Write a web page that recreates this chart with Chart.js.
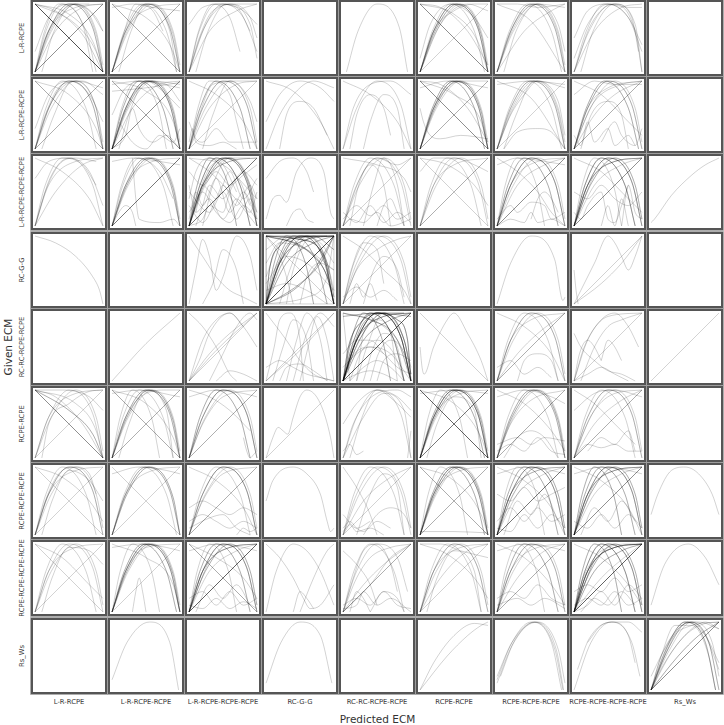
<!DOCTYPE html>
<html>
<head>
<meta charset="utf-8">
<script src="https://cdn.jsdelivr.net/npm/chart.js@4.4.1/dist/chart.umd.min.js"></script>
<style>
body { margin: 0; width: 724px; height: 725px; position: relative; background: #fff; overflow: hidden; font-family: "DejaVu Sans", sans-serif; }
.cell { position: absolute; box-sizing: border-box; border: 2px solid #555; box-shadow: 0 0 0 0.8px #9a9a9a; background: #fff; }
.cell div { position: relative; width: 100%; height: 100%; }
.lab { position: absolute; white-space: nowrap; color: #333; }
</style>
</head>
<body>
<script>
const rowLabels = ['L-R-RCPE', 'L-R-RCPE-RCPE', 'L-R-RCPE-RCPE-RCPE', 'RC-G-G', 'RC-RC-RCPE-RCPE', 'RCPE-RCPE', 'RCPE-RCPE-RCPE', 'RCPE-RCPE-RCPE-RCPE', 'Rs_Ws'];
const colLabels = ['L-R-RCPE', 'L-R-RCPE-RCPE', 'L-R-RCPE-RCPE-RCPE', 'RC-G-G', 'RC-RC-RCPE-RCPE', 'RCPE-RCPE', 'RCPE-RCPE-RCPE', 'RCPE-RCPE-RCPE-RCPE', 'Rs_Ws'];
const xTitle = 'Predicted ECM';
const yTitle = 'Given ECM';

//? curves: "x,y x,y ..." on a 0..10 box, "*n" = n overlapping curves
const givenLRRCPE = [
    ["0,10 10,0*6", "0,0 10,10*3", "0,0 2,6 5,10 8.5,6.5 10,0*2", "0,0 2.2,6 5.5,10 9,5.5 10,0", "0,0 1.6,6 4,10 7.5,6 9,0", "0,0 2.4,6 6,10 9,6 10,1", "0,0 2,6 6,9.5 10,10", "0,0 3,6 7,9.5 10,10", "0,0 1.5,5 3.5,8.5 6,10 8,10", "0,10 5,8.5 8.5,4.5 10,0", "0,10 3,9 7,5.5 10,0", "0,10 6,7 9,3 10,0", "0,0 1.4,6 3.5,10 7,7 8.5,0", "0,3 2,8 5,10 8,9 10,6", "1,0 2.8,6 6,10 9,8 10,6"],
    ["0,10 10,0*2", "0,0 10,10*2", "0,0 2,6 5,10 8.5,6.5 10,0*2", "0,0 2.2,6 5.5,10 9,5.5 10,0", "0,0 1.8,6 4.5,10 8,6 9.5,0", "0,0 2.4,6 6,10 9,6 10,1", "0,0 2,6 6,9.5 10,10", "0,9.5 3,10 6,9.5 10,9", "0,0 1.5,5 3.5,10 6,9 7.5,6", "1,0 2.8,6 5,10 8.5,6 9.5,0", "0,10 5,8 8.5,4 10,0"],
    ["0,0 1.5,6 4,10 7,9.5 9,6", "0,0 2,6 5,10 8,9 10,7", "0,0 2.5,7 6,10 9,8 10,5", "0,0 1.5,5 3.5,9 7,10 10,10", "0,0 3,6 7,9 10,10", "0,7 2,9.5 5,10 8,8 10,3", "0,0 1.4,6 3.5,10 6,8 7.5,3", "1,0 2.8,6 5.5,10 9,7 10,2"],
    [],
    ["0.5,0 2.2,6 5,10 8.3,6.5 9.5,0"],
    ["0,10 10,0*3", "0,0 10,10", "0,0 2,6 5,10 8.5,6.5 10,0*3", "0,0 2.2,6 5.5,10 9,5.5 10,0*2", "0,0 1.8,6 4.5,10 8,6 9.5,0", "0,0 2.4,6 6,10 9,6 10,1", "0,0 2,6 5,9 8,10 10,10", "0,10 5,8.5 8.5,4.5 10,0", "0,10 3,9.5 7,6 10,1", "0,2 1.5,7 4.5,10 8,8 10,5", "0,0 3,7 7,10 10,9"],
    ["0,0 2,6 5,10 8.5,6.5 10,0*2", "0,0 2.2,6 5.5,10 9,5.5 10,0", "0,0 1.8,6 4.5,10 8,6 9.5,0", "0,0 2.4,6 6,10 9,6 10,1", "0,0 2.5,7 6,10 10,9.5", "0,10 5,7.5 10,0", "0,10 3,10 6,9.5 10,10", "1,0 2.8,6 6,10 9,7 10,3", "0,0 4,6 8,9 10,10"],
    ["0,0 1.8,6 4.5,10 8,8 10,3", "0,0 2.2,6 5.5,10 9,6 10,0", "0,0 2.5,7 6,10 8.5,8 9.5,3", "0,2 2,7 5,10 8,9.5 10,9.5", "0,5 2,9 5,10 8,8 10,4", "1,0 2.8,6 6,10 9,7 10,0", "0,0 3,6 7,9.5 10,10"],
    []
];
const givenLRRCPERCPE = [
    ["0,10 10,0*2", "0,0 10,10*2", "0,0 2,6 5,10 8.5,6.5 10,0*2", "0,0 1.6,6 4,10 7.5,6 9,0", "0,0 2.4,6 6,10 9,6 10,1", "0,0 2.5,7 6,10 10,9", "0,0 1.5,5 4,9.5 7,10 10,8", "0,10 5,8 9,3 10,0", "1,0 2.8,5 5.5,10 9,6 10,0", "0,3 2,8 5,10 8,8 10,4"],
    ["0,0 10,10*3", "0,10 10,0*2", "0,0 2,6 5,10 8.5,6.5 10,0*3", "0,0 1.6,6 4,10 7.5,6 9,0*2", "0,0 2.2,6 5.5,10 9,5.5 10,0*2", "0,0 2.4,6 6,10 9,6 10,1", "0,0 1.4,6 3.5,10 6.8,6 8,0", "0,0 2.5,7 6,10 10,9.5", "0,0 3,6 7,9.5 10,10", "0,9.5 4,10 10,9", "0,8.5 5,9 10,9.8", "0,10 5,8.5 9,4 10,0", "0,0 2,2 3,6 4,3 6,1 8,2 10,0", "1,4 3,1 5,0 7,2 9,1 10,3", "1,0 2.8,6 5,10 8,8 10,6", "0,5 2,9 5,10 8,9.5 10,7"],
    ["0,0 2,6 5,10 8.5,6.5 10,0*2", "0,0 1.6,6 4,10 7.5,6 9,0*2", "0,0 2.4,6 6,10 9,6 10,1", "0,0 1.5,5 3.5,9.5 7,10 10,10", "0,0 3,6 7,9.5 10,10", "0,0 10,10", "0,10 4,8 8,4 10,0", "0,1 0.5,3 1,1 3,0.5 5,1 7,0", "0,4 1,1.5 2,1 4,3 6,1 10,1", "0,0 1.3,6 3,10 6,8 7,4 8,0", "2,0 3.5,5 6,10 9,7 10,4"],
    ["0,0 2,5 5,9 7,10 10,9", "0,10 4,8.5 8,4 10,0", "0,4 2,8 5,10 8,9 10,7", "2,0 3,5 5,7 7,6 9,2"],
    ["0,0 2,6 5,10 8.5,6.5 10,0", "0,0 1.5,6 4,9.5 7,10 10,8", "1,0 2,5 4,8 6,6 7,2", "0,10 4,8 8,4 10,0", "3,0 4,4 6,8 8,6 9,0"],
    ["0,10 10,0*3", "0,0 10,10*2", "0,0 2,6 5,10 8.5,6.5 10,0*3", "0,0 2.2,6 5.5,10 9,5.5 10,0*2", "0,0 1.8,6 4.5,10 8,6 9.5,0*2", "0,0 2.4,6 6,10 9,6 10,1", "0,10 5,8 9,4 10,0", "0,10 3,9.5 7,6 10,1", "0,6 0.5,4 1.5,2 3,1.5 6,2 10,1.5", "0,0 2,6 6,10 10,10", "0,9 4,10 10,9"],
    ["0,0 2,6 5,10 8.5,6.5 10,0*2", "0,0 2.2,6 5.5,10 9,5.5 10,0", "0,0 1.8,6 4.5,10 8,6 9.5,0", "0,0 2.4,6 6,10 9,6 10,1", "0,10 5,7.5 10,0", "0,0 10,10", "0,0 2,5 4,8 6,10 10,9", "0,9.5 5,10 10,9.5", "1,0 3,2.5 6,3 8,2.5 10,0", "1,0 2.8,5 5.5,10 9,7 10,2"],
    ["0,0 10,10*2", "0,0 2,6 5,10 8.5,6.5 10,0*2", "0,0 1.8,6 4.5,10 8,6 9.5,0*2", "0,0 2.4,6 6,10 9,6 10,1", "0,0 2,6 5,9 10,10", "0,0 3,5 6,8 10,10", "0,0 1.5,4 3,7 7,9.5 10,10", "0,10 4,8 8,4 10,2", "0,2 1,0.5 2,4 3,1 5,3 6,0.5 8,2 9,0.5", "1,0 2.5,5 5,7 7,5 8,0", "0,8 3,10 6,9.5 10,9.5", "4,1 6,4 7,2 9,0.5 10,3"],
    []
];
const givenLRRCPERCPERCPE = [
    ["0,0 2,6 6,9.5 10,10", "0,0 1.5,6 4,10 7,9 9,6", "0,0 2.2,7 5,10 8.5,6 10,0", "0,7 2,9.5 5,10 8,8 10,3", "0,0 3,5 7,9 10,10", "0,10 4,8 8,4 10,0", "0,0 1.5,5 3.5,9 6,10 9,9.5"],
    ["0,0 10,10*4", "0,0 2,6 5,10 8.5,6.5 10,0*2", "0,0 1.6,6 4,10 7.5,6 9,0", "0,0 2.2,6 5.5,10 9,5.5 10,0*2", "0,0 2.4,6 6,10 9,6 10,1", "0,0 2,6 6,9.5 10,10", "0,0 1.4,6 3.5,10 7,8 9,4", "0,9.5 3,10 7,9.5 10,9", "3,10 3.5,4 4,1 7,0.5 9,1 10,0", "0,0 1,2 2,3 3,2 3.5,0"],
    ["0,0 10,10*4", "0,0 2,6 5,10 8.5,6.5 10,0*3", "0,0 1.6,6 4,10 7.5,6 9,0*3", "0,0 1.2,6 3,10 5.8,6 7,0*2", "0,0 2.2,6 5.5,10 9,5.5 10,0*2", "0,0 2.4,6 6,10 9,6 10,1", "0,0 2,6 6,9.5 10,10*2", "0,0 1.5,5 3,8.5 6,10 9,10", "0,10 3,8 6,5 10,0", "0,10 5,9 10,4", "0,1 1,5 2,3 4,7 6,2 8,5 10,1", "0,3 2,0.5 4,4 5,6 7,3 9,6 10,4", "0,6 1,2 3,4 5,1 7,4 9,2 10,5", "0,2 2,5 4,2 6,0.5 8,3 10,1", "1,0 2,3 3,6 5,4 7,7 9,3", "0,0 2,1 3,3 5,2 6,5 8,8 10,6", "0,8 2,6 4,8 6,6 8,7.5 10,9", "2,0 3.5,6 6,10 9,6 10,2", "0,4 1,8 3,10 5,9 7,5", "1,2 2,6 4,4 6,8 8,4 10,7", "0,5 3,2 5,5 7,1 9,4 10,2"],
    ["0,1 1,4 2,4.5 3,3.5 4.5,8 6.5,10 8.5,8 9.5,2 10,1", "0,7 2,9.5 4,10 6,8 7,5", "3,0 4,2 5,2.5 6,1 7,0.5"],
    ["0,0 2,6 5,10 8.5,6.5 10,0", "0,0 1.6,6 4,10 7.5,6 9,0", "0,0 2.4,6 6,10 9,6 10,1", "0,10 5,9 9,7 10,5", "0,0 10,10", "0,0 2.5,7 5,10 8,9 10,10", "1,0 2.3,6 4,9 6,6 7,0", "3,0 4.5,6 6,10 8,6 9,0", "0,2 2,0.5 4,3 6,0.5 8,2 10,0.5", "0,1 2,3 4,1.5 6,3 8,1 10,2", "0,0 1,1 3,0.5 5,2 7,0 10,1", "5,0 6,3 7,4 8,2 9,0"],
    ["0,0 2,6 5,10 8.5,6.5 10,0", "0,0 1.6,6 4,10 7.5,6 9,0", "0,0 2.4,6 6,10 9,6 10,1", "0,0 10,10*2", "0,10 10,0", "0,0 2,6 5,9 10,10", "0,8 2,10 5,10 8,9 10,8", "0,10 4,9 8,6 10,3"],
    ["0,0 10,10*3", "0,0 2,6 5,10 8.5,6.5 10,0*3", "0,0 1.6,6 4,10 7.5,6 9,0*2", "0,0 2.4,6 6,10 9,6 10,1", "0,0 1.2,6 3,10 5.8,6 7,0", "0,0 2,6 6,9.5 10,10", "0,0 3,6 7,9 10,10", "0,10 3,8 6,5 8,2 10,0", "0,1 2,3 3,2 5,3.5 7,3 8,1 10,2", "0,0 2,1 4,0.5 5,2 6,0.5 8,1 10,0", "5,1 6,4 7,5 8,4 9,2", "0,9 3,10 7,9.5 10,9"],
    ["0,0 10,10*3", "0,0 2,6 5,10 8.5,6.5 10,0*3", "0,0 1.6,6 4,10 7.5,6 9,0*3", "0,0 2.4,6 6,10 9,6 10,1*2", "0,0 1.2,6 3,10 5.8,6 7,0", "0,0 2,6 6,9.5 10,10*2", "0,0 3,6 7,9 10,10", "0,0 1.5,4 3,7.5 6,9.5 10,10", "0,10 4,8 7,5 10,2", "0,2 1,1 2,3 4,5 5,1 6,0.5 7,3 8,6", "4,0 5,3 6,0 7,4 8,0", "0,5 2,4 4,6 6,4 8,3 10,5", "7,0 8,6 9,2 10,1"],
    ["0,0.5 0.5,1 3,4.5 6,7.5 8,9 10,10"]
];
const givenRCGG = [
    ["0,10 3,9 6,7 8.5,4 9.5,2 10,0"],
    [],
    ["0,0 1,5 2,9.5 3,7 4,2 5,4 7,10 9,7 10,2", "0,10 2,7 4,4 6,2 8,1 10,0", "2,0 3.5,3 5,8 7,5 8,0"],
    ["0,0 10,10*6", "0,10 10,0", "0,0 2,6 5,10 8.5,6.5 10,0*3", "0,0 1.6,6 4,10 7.5,6 9,0*2", "0,0 1.2,6 3,10 5.8,6 7,0*2", "0,0 2.4,6 6,10 9,6 10,1*2", "0,0 2,6 6,9.5 10,10*3", "0,0 3,6 7,9 10,10*2", "0,0 1.5,5 3,8.5 6,10 9,10*2", "0,0 0.5,5 2,8.5 5,9.8 10,10*3", "0,10 5,9.5 8.5,7 10,0*4", "0,10 4,9 7,7 9,4 10,0*2", "0,10 6,8 9,4 10,0*2", "0,10 2,7 3,4 4,0", "0,0 2,1 5,3 8,6 10,10*2", "0,0 4,2 7,5 10,10*2", "0,0 6,1 9,4 10,10", "2,0 3.5,5 6,10 9,6 10,2", "3,0 4,5 7,10 10,8", "0,4 2,9 5,10 8,9 10,6", "5,0 6,4 8,6 10,5", "0,8 3,10 7,10 10,8", "0,2 3,3 6,2 9,0", "0,10 10,10*2", "0,0 0.02,10*2", "9.98,0 10,10", "0,0 10,0", "0,6 2,9 6,8 10,5", "0,3 3,7 6,6 10,2"],
    ["0,0 2,6 5,10 8.5,6.5 10,0", "0,0 1.6,6 4,10 7.5,6 9,0", "0,0 2.4,6 6,10 9,6 10,1", "0,0 1.2,5 3,9 5,8 6,3", "0,0 10,10", "0,0 2,5 5,8 8,9.5 10,10", "0,10 3,8 6,5 9,2 10,0", "1,0 2,3 3,1 4,3 5,0.5", "3,0 4.5,5 6,7 8,5 9,1", "0,1 2,2.5 4,1 6,2 8,0.5"],
    [],
    ["0,0 2,6 5,10 8.5,6.5 9.7,0.5 10,1"],
    ["0,0 1,2 3,6 5,10 6,9 7,7 8,5 9,7 10,10", "0,0 5,5 10,10", "0,0 4,3 7,6 10,10", "0,5 0.3,2 0.6,0"],
    []
];
const givenRCRCRCPERCPE = [
    [],
    ["0,0 5,5.5 10,10"],
    ["0,0 5,5 10,10", "0,0 4,4.5 10,10", "0,0 3,4 6,7 10,10", "0,0 1.5,3 3,7 6,10 8,8 10,5", "0,0 2,6 4,9 6,10 8,8", "3,0 5,4 7,8 9,10 10,9", "4,0 6,1.5 8,1 10,0", "0,10 2,8 4,5 6,1 7,0"],
    ["0,0 1.2,5 2,9 3.5,10 5,6 5.5,0", "3,0 4.5,6 6,10 8,6 9,0", "1,0 2.5,5 4,9 6,6 7,0", "5,0 6.2,5 7.5,9.5 9,6 10,0", "0,0 10,10", "0,0 5,4.5 10,10", "0,10 3,6 5,3 7,1 10,0", "2,0 3,2 5,2.5 7,1.5 9,0", "0,2 2,3 4,2 6,1 8,0.5 10,0", "4,0 6,7 8,10 10,8"],
    ["0,0 10,10*5", "0,0 2,6 5,10 8.5,6.5 10,0*6", "0,0 1.6,6 4,10 7.5,6 9,0*3", "0,0 2.4,6 6,10 9,6 10,1*3", "0,0 1.2,6 3,10 5.8,6 7,0*2", "0,0 2,6 6,9.5 10,10*3", "0,0 3,6 7,9 10,10*2", "0,0 1.5,5 3,8.5 6,10 9,10*2", "0,0 0.8,5 3,9 5,10 8,9 9.5,6 10,0*3", "0,10 4,9 8,6 10,0*2", "0,10 6,8 9,4 10,0", "0,9.5 5,10 10,9.5*2", "2,0 3.5,5 6,10 9,6 10,2", "3,0 4.5,5 6,7 8,5 9,0", "4,0 5.2,4 7,6 9,4 10,0", "1,0 3,2 5,3 7,2 9,0", "0,2 2,4 4,5 6,4 8,2 10,1", "0,0 2,1 4,1.5 6,1 8,0", "5,0 6,3 8,4 10,3", "0,4 2,6 4,6 6,4", "1,0 2.5,4 5,6 7.5,4 9,0", "0,0 1,3 4,5 7,4 10,0", "0,10 0.5,5 1,0", "2,0 3,7 5,9 7,7 8,0"],
    ["0,5 0.3,2 0.6,1 2,5 4,9 5,10 7,7 9,3 10,0", "0,10 10,0"],
    ["0,0 2,6 5,10 8.5,6.5 10,0*2", "0,0 1.6,6 4,10 7.5,6 9,0", "0,0 2.4,6 6,10 9,6 10,1", "0,0 10,10*2", "0,10 4,8 8,4 10,0", "0,0 2,6 5,9 10,10", "0,0 3,4 6,7 10,10", "3,0 4,3 6,4 8,3 9,0", "0,2 2,3 4,1 6,2 8,0.5"],
    ["0,0 10,10", "0,0 2,6 5,9.5 10,10", "0,0 1.5,5 4,9 6,10 8,8 9.5,5", "0,0 0.8,4 2,6 3,5 4,3", "1,0 3,5 5,8 7,9 10,10", "0,7 1,5 3,3 5,1.5 7,1 9,0", "0,0 2,1 4,2 6,1 8,0", "4,3 5,6 6,5 7,3"],
    ["0,0 5,5 10,10"]
];
const givenRCPERCPE = [
    ["0,10 10,0*3", "0,10 5,7 8.5,3.5 10,0*2", "0,10 3,9 7,5 10,0", "0,10 6,8 9,4 10,0", "0,0 10,10", "0,0 2,6 5,10 8.5,6.5 10,0", "0,0 2.4,6 6,10 9,6 10,1", "0,0 2,6 6,9.5 10,10", "0,10 4,10 8,9 10,7", "1,0 2,5 5,8 8,9.8 10,10"],
    ["0,10 10,0*2", "0,0 10,10*2", "0,0 2,6 5,10 8.5,6.5 10,0*2", "0,0 1.6,6 4,10 7.5,6 9,0", "0,0 2.2,6 5.5,10 9,5.5 10,0*2", "0,0 2.4,6 6,10 9,6 10,1", "0,0 1.2,6 3,10 5.8,6 7,0", "0,0 2,6 5,9.5 8,10 10,10", "0,10 5,8 9,3 10,0", "0,9.5 4,10 10,9", "1,0 2.5,5 5,10 8,7 9,0"],
    ["0,0 2,6 5,10 8.5,6.5 10,0*3", "0,0 1.6,6 4,10 7.5,6 9,0*2", "0,0 2.4,6 6,10 9,6 10,1", "0,0 10,10*2", "0,0 2,5 5,9 10,10", "0,10 3,9 6,7 9,4", "8,3 8.5,1 9,0 9.5,0.5 10,1", "0,9 4,10 8,9.5 10,9"],
    ["0,0 10,10", "0,0 1,3 1.8,4.5 2.5,4 3.2,3.5 4,6 5,9 6,10 8,8 9.5,3 10,0"],
    ["0,0 2,6 5,10 8.5,6.5 10,0", "0,0 1.5,5 5,9.5 8,10 10,9", "1,0 2.8,6 5,10 8,8 10,6", "0,5 2,8 5,10 8,9 10,7", "0,0 3,6 6,9.5 9,7 10,0", "0,1 1,2 2,0.5 3,1", "9.5,0 10,4"],
    ["0,10 10,0*5", "0,0 10,10*4", "0,0 2,6 5,10 8.5,6.5 10,0*4", "0,0 1.8,6 4.5,10 8,6 9.5,0*2", "0,0 2.2,6 5.5,10 9,5.5 10,0*2", "0,0 2.4,6 6,10 9,6 10,1", "0,0 1.2,6 3,10 5.8,6 7,0", "0,10 5,8 9,3 10,0", "0,0 2,6 6,9.5 10,10", "0,9.5 5,10 10,9.5", "1,0 2.5,5 5,9 8,7 9,0"],
    ["0,0 2,6 5,10 8.5,6.5 10,0*2", "0,0 1.6,6 4,10 7.5,6 9,0", "0,0 2.2,6 5.5,10 9,5.5 10,0*2", "0,0 2.4,6 6,10 9,6 10,1", "0,0 10,10*2", "0,0 2,5 5,8.5 10,10", "0,10 4,8 8,4 10,1", "0,1 2,2 4,1 6,3 8,1 10,0.5", "0,2 3,3 5,2 7,3 10,2.5", "0,9 4,10 8,9 10,8", "1,0 3,3 5,4 7,3 9,0"],
    ["0,0 2,6 5,10 8.5,6.5 10,0*2", "0,0 1.6,6 4,10 7.5,6 9,0", "0,0 2.4,6 6,10 9,6 10,1", "0,0 10,10*2", "0,0 1.5,4 3,7 6,9.5 10,10", "0,0 3,5 7,8.5 10,10", "0,10 3,8 6,5 9,2", "0,0 2,2 4,1.5 6,2 8,1 10,1", "2,1 4,3 6,2 8,4 9,1", "0,7 3,9.5 6,10 10,9"],
    []
];
const givenRCPERCPERCPE = [
    ["0,0 2,6 5,10 8.5,6.5 10,0*2", "0,0 1.6,6 4,10 7.5,6 9,0", "0,0 2.4,6 6,10 9,6 10,1", "0,0 10,10", "0,10 10,0", "0,0 2,6 6,9.5 10,10", "0,10 4,8.5 8,5 10,2", "0,0 1.5,5 3.5,9 6,10 8,9 9,6", "1,0 2.5,5 5,9.5 8,8 10,5"],
    ["0,0 2,6 5,10 8.5,6.5 10,0*2", "0,0 2.2,6 5.5,10 9,5.5 10,0*2", "0,0 1.8,6 4.5,10 8,6 9.5,0", "0,0 10,10", "0,10 10,0", "0,0 2,6 6,9.5 10,10", "0,9 4,10 8,9.5 10,9"],
    ["0,0 2,6 5,10 8.5,6.5 10,0*3", "0,0 1.6,6 4,10 7.5,6 9,0", "0,0 2.4,6 6,10 9,6 10,1", "0,0 10,10*2", "0,10 4,8 8,4 10,0", "0,0 2,5 5,9 10,10", "0,2 2,3 4,2 6,1 8,2 10,1", "0,1 3,2.5 5,3 7,1 9,0", "0,4 2,5 4,4 6,3 8,4 10,3", "7,0 8,1 9,0.5 10,1"],
    ["0,5 1,8 4,10 6,9 8,6 9,2 9.5,0.5 10,1"],
    ["0,0 2,6 5,10 8.5,6.5 10,0", "0,0 1.6,6 4,10 7.5,6 9,0", "0,0 2.4,6 6,10 9,6 10,1", "0,0 10,10", "0,0 3,5 7,8.5 10,10", "0,10 2,7 4,3 5,0", "2,0 4,6 6,9 8,7 9,0", "0,1 1,2 2,1 3,0.5 5,2 7,1", "0,0.5 1,1.5 2,0.5 4,1 6,0", "0,3 2,1 4,2", "3,0 5,3 7,4 9,3 10,1"],
    ["0,10 10,0*2", "0,0 10,10*2", "0,0 2,6 5,10 8.5,6.5 10,0*3", "0,0 1.8,6 4.5,10 8,6 9.5,0*2", "0,0 2.2,6 5.5,10 9,5.5 10,0*2", "0,0 2.4,6 6,10 9,6 10,1", "0,0 1.2,6 3,10 5.8,6 7,0", "0,0 2,6 6,9.5 10,10", "0,10 5,8 9,3 10,0", "0,0.5 5,0.5 10,0.3"],
    ["0,0 10,10*4", "0,0 2,6 5,10 8.5,6.5 10,0*3", "0,0 1.6,6 4,10 7.5,6 9,0*2", "0,0 2.4,6 6,10 9,6 10,1*2", "0,0 1.2,6 3,10 5.8,6 7,0", "0,0 2,6 6,9.5 10,10*2", "0,0 3,6 7,9 10,10", "0,10 4,8 8,4 10,0", "0,2 2,4 4,2 6,4 8,2 10,3", "0,1 2,0.5 4,3 6,1 8,3 10,1", "1,0 3,5 5,3 7,6 9,2", "0,6 2,5 4,7 6,5 8,6 10,7", "0,9 4,10 8,9.5 10,9"],
    ["0,0 10,10*3", "0,0 2,6 5,10 8.5,6.5 10,0*3", "0,0 1.6,6 4,10 7.5,6 9,0*2", "0,0 2.4,6 6,10 9,6 10,1*2", "0,0 1.2,6 3,10 5.8,6 7,0*2", "0,0 2,6 6,9.5 10,10*2", "0,0 1.5,4 3,7.5 6,9.5 10,10", "0,0 3,6 7,9 10,10", "0,10 4,8 8,4 10,0", "0,2 2,1 4,3 6,1 8,3 10,1", "1,0 3,4 5,2 7,5 9,2", "0,9 4,10 8,9.5 10,9"],
    ["0,3 1,6 3,9.5 5,10 7,9 9,6 10,3"]
];
const givenRCPERCPERCPERCPE = [
    ["0,0 2,6 5,10 8.5,6.5 10,0", "0,0 1.6,6 4,10 7.5,6 9,0", "0,0 2.4,6 6,10 9,6 10,1", "0,0 10,10", "0,10 10,0", "0,0 2,6 6,9.5 10,10", "0,10 4,8 8,4 10,2", "1,0 2.5,5 5,9.5 8,9 10,7"],
    ["0,0 2,6 5,10 8.5,6.5 10,0*3", "0,0 1.8,6 4.5,10 8,6 9.5,0*2", "0,0 2.2,6 5.5,10 9,5.5 10,0*2", "0,0 2.4,6 6,10 9,6 10,1", "0,0 1.2,6 3,10 5.8,6 7,0", "0,0 10,10", "0,10 5,8 9,4 10,0", "0,0 2,6 5,9.5 10,10", "0,9.5 4,10 8,9.5 10,9", "3,0 3.5,3 4,5 4.5,3 5,0"],
    ["0,0 10,10*5", "0,10 10,0*2", "0,0 2,6 5,10 8.5,6.5 10,0*3", "0,0 1.6,6 4,10 7.5,6 9,0*2", "0,0 2.4,6 6,10 9,6 10,1*2", "0,0 1.2,6 3,10 5.8,6 7,0", "0,0 2,6 6,9.5 10,10*2", "0,0 3,6 7,9 10,10", "0,0 1.5,4 3,7.5 6,9.5 10,10", "0,10 4,8 8,5 10,2", "0,1 2,0.5 4,2 6,0.5 8,1.5 10,0.5", "0,2 2,3 4,1 6,3 8,1 10,2", "1,0 3,4 5,2 7,4 9,1", "0,9 4,10 8,9.5 10,9"],
    ["0,10 2,8 4,5 5.5,2 6.5,0.5 8,1 10,4", "0,0 1.5,6 4,10 6,9 8,6 10,1", "4,0 5,3 6,2 7,0.5", "5,0 7,5 9,9 10,10"],
    ["0,0 1.6,6 4,10 7.5,6 9,0", "0,0 2,6 5,10 8,8 9.5,3", "0,0 1.5,5 3,9 5,10 7,7 8,3", "0,0 10,10*2", "0,0 3,4 6,7 10,10", "0,0 4,4 7,8 10,10", "0,0 2,5 4,8 7,9.5 10,10", "0,9 2,7 4,4 5,1", "0,1 2,2 4,1 6,3 8,1 10,0.5", "0,0.5 2,1 3,3 5,1 7,2 10,0", "4,0 6,3 8,2 9,0", "1,0 2,3 3,2 4,0"],
    ["0,0 2,6 5,10 8.5,6.5 10,0*2", "0,0 1.6,6 4,10 7.5,6 9,0", "0,0 2.4,6 6,10 9,6 10,1", "0,0 10,10", "0,0 2,6 6,9.5 10,10", "0,0 3,5 7,9 10,10", "0,10 4,8.5 8,5 10,2", "0,10 3,10 6,9 10,8", "1,0 2.5,5 5,9 8,6 9,0"],
    ["0,0 2,6 5,10 8.5,6.5 10,0*2", "0,0 1.6,6 4,10 7.5,6 9,0*2", "0,0 2.4,6 6,10 9,6 10,1", "0,0 1.2,6 3,10 5.8,6 7,0", "0,0 10,10*2", "0,0 2,6 6,9.5 10,10", "0,0 3,5 7,9 10,10", "0,10 4,8 8,4 10,1", "0,2 2,3 4,2 6,4 8,2 10,1", "0,1 3,2 5,1 7,2 10,0.5", "0,9 4,10 8,9.5 10,9"],
    ["0,0 10,10*5", "0,0 2,6 5,10 8.5,6.5 10,0*3", "0,0 1.6,6 4,10 7.5,6 9,0*3", "0,0 2.4,6 6,10 9,6 10,1*2", "0,0 1.2,6 3,10 5.8,6 7,0*2", "0,0 2,6 6,9.5 10,10*3", "0,0 3,6 7,9 10,10*2", "0,0 1.5,4 3,7.5 6,9.5 10,10*2", "0,0 4,5 8,8.5 10,10", "0,10 4,8 8,4 10,1", "0,1 2,2 4,1 6,3 8,1 10,2", "0,0 2,1 4,3 6,1 8,4 10,2", "1,0 3,2 5,1 7,3 9,1", "0,3 2,4 4,3 6,5 8,3 10,4", "0,0 1,4 3,8 5,9.5 8,10 10,10"],
    ["0,1 2,7 5.5,10 8,8 10,4"]
];
const givenRsWs = [
    [],
    ["0,1.5 2.2,7 5.5,10 8.5,7 9.8,0"],
    [],
    ["0,1 2.2,7 5,10 8,8 9.7,1"],
    [],
    ["0,0 4,5 7,8 9,9.5 10,10", "0,0 2,4 5,8 8,9.8 10,9.5"],
    ["0,2 2.2,7 5.5,10 8.5,6 9.7,0", "0,1 2.2,6.5 5.5,10 8.7,6 9.8,0", "0.5,2 2.7,7.5 6,10 9,6 10,1", "0,1.5 2.2,7 5,10 8,7 9.5,0"],
    ["0,0 2.5,7 5.5,10 8,8 9,4", "0.5,3 2.2,7.5 5.5,10 8.5,7 9.7,2", "2,7 4,9.5 6,10 8,10 10,8.5"],
    ["0,0 10,10*3", "0,0 4,5 7,8 10,10*2", "0,0 2,4 5,8 8,9.8 10,10", "0,0 1.5,4 3,7.5 6,9.5 10,10", "0,0 1.5,5 4,9 6,10 8,8 10,3", "0,0 2.2,6 5,10 8,7 9.5,0*2", "0,0 2.5,6 5.5,10 8.5,7 10,0*2", "0,0 1.5,5 3.5,9.5 6,9.5 8.5,5 9.5,0", "0,0 2.5,5.5 6,10 9,7 10,2", "0,0 2,5 4.5,9.5 7,10 10,9", "0,2 2,6 5,10 8,8 10,4", "0,0 3,5.5 6,9 8,10 10,9"]
];
const rows = [givenLRRCPE, givenLRRCPERCPE, givenLRRCPERCPERCPE, givenRCGG, givenRCRCRCPERCPE, givenRCPERCPE, givenRCPERCPERCPE, givenRCPERCPERCPERCPE, givenRsWs];

/* -------------------------------------------------------------------------- */

const GRID_LEFT = 31;
const PITCH_X = 77;
const PITCH_Y = 77.2;
const CELL = 76;

function parseCurve(str) {
    const parts = str.split('*');
    const points = parts[0].trim().split(' ').map(p => {
        const xy = p.split(',');
        return { x: +xy[0], y: +xy[1] };
    });
    const count = parts[1] ? +parts[1] : 1;
    return { points, count };
}

function addLabel(text, x, y, size, rotate) {
    const el = document.createElement('div');
    el.className = 'lab';
    el.textContent = text;
    el.style.left = x + 'px';
    el.style.top = y + 'px';
    el.style.fontSize = size + 'px';
    el.style.transform = 'translate(-50%, -50%)' + (rotate ? ' rotate(-90deg)' : '');
    document.body.appendChild(el);
}

rows.forEach((row, r) => {
    row.forEach((curves, c) => {
        const cell = document.createElement('div');
        cell.className = 'cell';
        cell.style.left = (GRID_LEFT + c * PITCH_X) + 'px';
        cell.style.top = (r * PITCH_Y) + 'px';
        cell.style.width = CELL + 'px';
        cell.style.height = CELL + 'px';
        const inner = document.createElement('div');
        const canvas = document.createElement('canvas');
        inner.appendChild(canvas);
        cell.appendChild(inner);
        document.body.appendChild(cell);

        const datasets = [];
        curves.forEach(str => {
            const curve = parseCurve(str);
            for (let i = 0; i < curve.count; i++) {
                datasets.push({
                    data: curve.points,
                    borderColor: 'rgba(0, 0, 0, 0.2)',
                    borderWidth: 0.9,
                    pointRadius: 0,
                    fill: false,
                    cubicInterpolationMode: 'monotone'
                });
            }
        });

        new Chart(canvas, {
            type: 'line',
            data: { datasets },
            options: {
                responsive: true,
                maintainAspectRatio: false,
                animation: false,
                events: [],
                layout: { padding: 0 },
                scales: {
                    x: { type: 'linear', min: -0.3, max: 10.3, display: false },
                    y: { type: 'linear', min: -0.3, max: 10.3, display: false }
                },
                plugins: { legend: { display: false }, tooltip: { enabled: false } }
            }
        });
    });
    addLabel(rowLabels[r], 22, r * PITCH_Y + CELL / 2, 6.8, true);
});

colLabels.forEach((label, c) => {
    addLabel(label, GRID_LEFT + c * PITCH_X + CELL / 2, 702, 6.8, false);
});
addLabel(xTitle, GRID_LEFT + 4.5 * PITCH_X, 719, 10.5, false);
addLabel(yTitle, 8, 4.5 * PITCH_Y, 10.5, true);
</script>
</body>
</html>
